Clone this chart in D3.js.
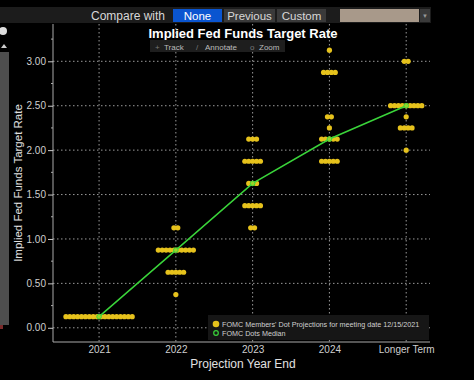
<!DOCTYPE html>
<html>
<head>
<meta charset="utf-8">
<script src="https://cdn.jsdelivr.net/npm/d3@7"></script>
<style>
  body { margin: 0; background: #000; }
  svg { display: block; font-family: "Liberation Sans", Arial, sans-serif; }
</style>
</head>
<body>
<div id="chart"></div>
<script>
const categories = ["2021", "2022", "2023", "2024", "Longer Term"];
// dot levels per projection year and number of participants at each level
const dotLevels = [
  [0.125],
  [0.375, 0.625, 0.875, 1.125],
  [1.125, 1.375, 1.625, 1.875, 2.125],
  [1.875, 2.125, 2.25, 2.375, 2.875, 3.125],
  [2.0, 2.25, 2.375, 2.5, 3.0]
];
const dotCounts = [
  [18],
  [1, 5, 10, 2],
  [2, 5, 3, 5, 3],
  [5, 5, 1, 2, 4, 1],
  [1, 4, 1, 9, 2]
];
const medians = [0.125, 0.875, 1.625, 2.125, 2.5];
const yTicks = [0, 0.5, 1, 1.5, 2, 2.5, 3];
const yMinorTicks = [0.25, 0.75, 1.25, 1.75, 2.25, 2.75, 3.25];
const compareButtons = ["None", "Previous", "Custom"];

const width = 474;
const height = 380;

const svg = d3
  .select("#chart")
  .append("svg")
  .attr("width", width)
  .attr("height", height);

svg.append("rect").attr("width", width).attr("height", height).attr("fill", "#000");

const x = d3.scaleLinear().domain([-0.6, 4.31]).range([53, 430]);
const y = d3.scaleLinear().domain([-0.16, 3.42]).range([342, 24]);

// top "compare with" bar
svg.append("rect").attr("x", 0).attr("y", 7).attr("width", 431).attr("height", 16).attr("fill", "#1c1c1c");
svg.append("text")
  .attr("x", 128).attr("y", 19.5)
  .attr("text-anchor", "middle")
  .attr("fill", "#d8d8d8")
  .style("font-size", "12px")
  .text("Compare with");

const btnX = [173, 224, 277];
const btnW = [49, 51, 49];
compareButtons.forEach((b, i) => {
  svg.append("rect")
    .attr("x", btnX[i]).attr("y", 9).attr("width", btnW[i]).attr("height", 13)
    .attr("fill", i === 0 ? "#0a55d0" : "#3a3a3a");
  svg.append("text")
    .attr("x", btnX[i] + btnW[i] / 2).attr("y", 19.5)
    .attr("text-anchor", "middle")
    .attr("fill", i === 0 ? "#fff" : "#d8d8d8")
    .style("font-size", "11.5px")
    .text(b);
});
svg.append("rect").attr("x", 340).attr("y", 9).attr("width", 79).attr("height", 13).attr("fill", "#a8998a");
svg.append("rect").attr("x", 420).attr("y", 9).attr("width", 10).attr("height", 13).attr("fill", "#3a3a3a");
svg.append("text").attr("x", 425).attr("y", 18).attr("text-anchor", "middle")
  .attr("fill", "#999").style("font-size", "6px").text("▼");

// left side bar
svg.append("circle").attr("cx", 3).attr("cy", 31).attr("r", 4).attr("fill", "#ddd");
svg.append("path").attr("d", "M1,48 L4,44 L7,48 Z").attr("fill", "#ccc");
svg.append("rect").attr("x", 0).attr("y", 52).attr("width", 9).attr("height", 273).attr("fill", "#4e4e4e");
svg.append("rect").attr("x", 0).attr("y", 325).attr("width", 3).attr("height", 4).attr("fill", "#7a2a2a");

// gridlines
svg.append("g")
  .selectAll("line")
  .data(yTicks)
  .enter()
  .append("line")
  .attr("x1", 53).attr("x2", 430)
  .attr("y1", (d) => y(d)).attr("y2", (d) => y(d))
  .attr("stroke", "#9a9a9a").attr("stroke-width", 1)
  .attr("stroke-dasharray", "1.5,2.5");

svg.append("g")
  .selectAll("line")
  .data(categories)
  .enter()
  .append("line")
  .attr("x1", (d, i) => x(i)).attr("x2", (d, i) => x(i))
  .attr("y1", 24).attr("y2", 342)
  .attr("stroke", "#9a9a9a").attr("stroke-width", 1)
  .attr("stroke-dasharray", "1.5,2.5");

// axes
const yAxis = svg.append("g")
  .attr("transform", "translate(53,0)")
  .call(d3.axisLeft(y).tickValues(yTicks).tickFormat(d3.format(".2f")).tickSize(5).tickPadding(2));
yAxis.select(".domain").attr("stroke", "#aaa").attr("d", "M0,24V342");
yAxis.selectAll(".tick line").attr("stroke", "#ccc");
yAxis.selectAll(".tick text").attr("fill", "#cfcfcf").style("font-size", "10px")
  .style("font-family", "Liberation Sans, Arial, sans-serif");

svg.append("g")
  .selectAll("line")
  .data(yMinorTicks)
  .enter()
  .append("line")
  .attr("x1", 51).attr("x2", 53)
  .attr("y1", (d) => y(d)).attr("y2", (d) => y(d))
  .attr("stroke", "#aaa");

const xAxis = svg.append("g")
  .attr("transform", "translate(0,342)")
  .call(d3.axisBottom(x).tickValues(d3.range(categories.length)).tickFormat((i) => categories[i]).tickSize(0).tickPadding(4));
xAxis.select(".domain").attr("stroke", "#aaa").attr("d", "M53,0H430");
xAxis.selectAll(".tick text").attr("fill", "#cfcfcf").style("font-size", "10px")
  .style("font-family", "Liberation Sans, Arial, sans-serif");

// dots
const dotData = [];
dotLevels.forEach((levels, ci) => {
  levels.forEach((rate, li) => {
    const n = dotCounts[ci][li];
    for (let k = 0; k < n; k++) {
      dotData.push({ cat: ci, rate: rate, offset: k - (n - 1) / 2 });
    }
  });
});

svg.append("g")
  .selectAll("circle")
  .data(dotData)
  .enter()
  .append("circle")
  .attr("cx", (d) => x(d.cat) + d.offset * 3.9)
  .attr("cy", (d) => y(d.rate))
  .attr("r", 2.6)
  .attr("fill", "#e6c21c");

// median line
const line = d3.line().x((d, i) => x(i)).y((d) => y(d));
svg.append("path")
  .datum(medians)
  .attr("d", line)
  .attr("fill", "none")
  .attr("stroke", "#3ad43a")
  .attr("stroke-width", 1.5);

svg.append("g")
  .selectAll("circle")
  .data(medians)
  .enter()
  .append("circle")
  .attr("cx", (d, i) => x(i))
  .attr("cy", (d) => y(d))
  .attr("r", 2.3)
  .attr("fill", "#9ad42a")
  .attr("stroke", "#3ad43a")
  .attr("stroke-width", 1);

// title + toolbar
svg.append("text")
  .attr("x", 243).attr("y", 38)
  .attr("text-anchor", "middle")
  .attr("fill", "#fff")
  .style("font-size", "13px")
  .style("font-weight", "bold")
  .text("Implied Fed Funds Target Rate");

svg.append("rect").attr("x", 150).attr("y", 40).attr("width", 135).attr("height", 12).attr("fill", "#1e1e1e");
const tools = [["+", "Track", 155], ["/", "Annotate", 196], ["o", "Zoom", 250]];
tools.forEach((t) => {
  svg.append("text").attr("x", t[2]).attr("y", 49.5).attr("fill", "#777").style("font-size", "8px").text(t[0]);
  svg.append("text").attr("x", t[2] + 9).attr("y", 49.5).attr("fill", "#bbb").style("font-size", "8px").text(t[1]);
});

// axis titles
svg.append("text")
  .attr("transform", "translate(22,183) rotate(-90)")
  .attr("text-anchor", "middle")
  .attr("fill", "#e0e0e0")
  .style("font-size", "11.5px")
  .text("Implied Fed Funds Target Rate");

svg.append("text")
  .attr("x", 243).attr("y", 368)
  .attr("text-anchor", "middle")
  .attr("fill", "#e0e0e0")
  .style("font-size", "12px")
  .text("Projection Year End");

// legend
const legend = svg.append("g");
legend.append("rect").attr("x", 208).attr("y", 315).attr("width", 221).attr("height", 25).attr("fill", "#161616");
legend.append("circle").attr("cx", 216).attr("cy", 324).attr("r", 3.3).attr("fill", "#e6c21c");
legend.append("circle").attr("cx", 216).attr("cy", 333).attr("r", 2.3).attr("fill", "none").attr("stroke", "#3ad43a").attr("stroke-width", 1.2);
legend.append("text").attr("x", 222).attr("y", 326.5).attr("fill", "#d0d0d0").style("font-size", "7.2px")
  .text("FOMC Members' Dot Projections for meeting date 12/15/2021");
legend.append("text").attr("x", 222).attr("y", 335.5).attr("fill", "#d0d0d0").style("font-size", "7.2px")
  .text("FOMC Dots Median");
</script>
</body>
</html>
